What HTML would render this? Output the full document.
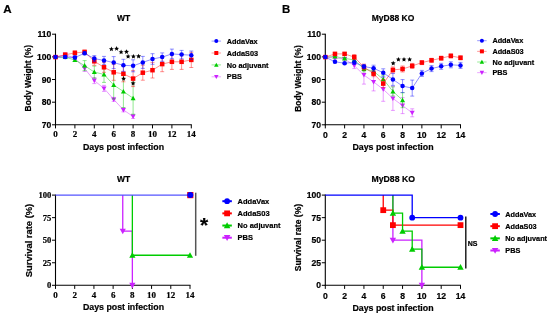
<!DOCTYPE html>
<html><head><meta charset="utf-8"><style>
html,body{margin:0;padding:0;background:#fff;width:550px;height:316px;overflow:hidden}
svg{display:block;filter:blur(0.3px)}
text{stroke:#000;stroke-width:0.2px}
</style></head><body>
<svg width="550" height="316" viewBox="0 0 550 316">
<rect width="550" height="316" fill="#fff"/>
<text x="3.3" y="12.6" font-size="11.6" text-anchor="start" font-family='"Liberation Sans", sans-serif' font-weight="bold" >A</text>
<text x="123.5" y="20.5" font-size="8.5" text-anchor="middle" font-family='"Liberation Sans", sans-serif' font-weight="bold" >WT</text>
<line x1="55.50" y1="33.70" x2="55.50" y2="125.30" stroke="#000" stroke-width="1.1" stroke-opacity="1"/>
<line x1="55.00" y1="124.80" x2="191.80" y2="124.80" stroke="#000" stroke-width="1.1" stroke-opacity="1"/>
<line x1="52.00" y1="34.20" x2="55.50" y2="34.20" stroke="#000" stroke-width="1" stroke-opacity="1"/>
<text x="51.3" y="37.300000000000004" font-size="8.6" text-anchor="end" font-family='"Liberation Sans", sans-serif' font-weight="bold" >110</text>
<line x1="52.00" y1="56.90" x2="55.50" y2="56.90" stroke="#000" stroke-width="1" stroke-opacity="1"/>
<text x="51.3" y="60.0" font-size="8.6" text-anchor="end" font-family='"Liberation Sans", sans-serif' font-weight="bold" >100</text>
<line x1="52.00" y1="79.50" x2="55.50" y2="79.50" stroke="#000" stroke-width="1" stroke-opacity="1"/>
<text x="51.3" y="82.6" font-size="8.6" text-anchor="end" font-family='"Liberation Sans", sans-serif' font-weight="bold" >90</text>
<line x1="52.00" y1="102.20" x2="55.50" y2="102.20" stroke="#000" stroke-width="1" stroke-opacity="1"/>
<text x="51.3" y="105.3" font-size="8.6" text-anchor="end" font-family='"Liberation Sans", sans-serif' font-weight="bold" >80</text>
<line x1="52.00" y1="124.80" x2="55.50" y2="124.80" stroke="#000" stroke-width="1" stroke-opacity="1"/>
<text x="51.3" y="127.89999999999999" font-size="8.6" text-anchor="end" font-family='"Liberation Sans", sans-serif' font-weight="bold" >70</text>
<line x1="55.50" y1="124.80" x2="55.50" y2="128.40" stroke="#000" stroke-width="1" stroke-opacity="1"/>
<text x="55.5" y="137.3" font-size="9.0" text-anchor="middle" font-family='"Liberation Serif", serif' font-weight="bold" >0</text>
<line x1="74.90" y1="124.80" x2="74.90" y2="128.40" stroke="#000" stroke-width="1" stroke-opacity="1"/>
<text x="74.9" y="137.3" font-size="9.0" text-anchor="middle" font-family='"Liberation Serif", serif' font-weight="bold" >2</text>
<line x1="94.30" y1="124.80" x2="94.30" y2="128.40" stroke="#000" stroke-width="1" stroke-opacity="1"/>
<text x="94.30000000000001" y="137.3" font-size="9.0" text-anchor="middle" font-family='"Liberation Serif", serif' font-weight="bold" >4</text>
<line x1="113.70" y1="124.80" x2="113.70" y2="128.40" stroke="#000" stroke-width="1" stroke-opacity="1"/>
<text x="113.7" y="137.3" font-size="9.0" text-anchor="middle" font-family='"Liberation Serif", serif' font-weight="bold" >6</text>
<line x1="133.10" y1="124.80" x2="133.10" y2="128.40" stroke="#000" stroke-width="1" stroke-opacity="1"/>
<text x="133.10000000000002" y="137.3" font-size="9.0" text-anchor="middle" font-family='"Liberation Serif", serif' font-weight="bold" >8</text>
<line x1="152.50" y1="124.80" x2="152.50" y2="128.40" stroke="#000" stroke-width="1" stroke-opacity="1"/>
<text x="152.5" y="137.3" font-size="9.0" text-anchor="middle" font-family='"Liberation Serif", serif' font-weight="bold" >10</text>
<line x1="171.90" y1="124.80" x2="171.90" y2="128.40" stroke="#000" stroke-width="1" stroke-opacity="1"/>
<text x="171.9" y="137.3" font-size="9.0" text-anchor="middle" font-family='"Liberation Serif", serif' font-weight="bold" >12</text>
<line x1="191.30" y1="124.80" x2="191.30" y2="128.40" stroke="#000" stroke-width="1" stroke-opacity="1"/>
<text x="191.3" y="137.3" font-size="9.0" text-anchor="middle" font-family='"Liberation Serif", serif' font-weight="bold" >14</text>
<text x="123.5" y="150" font-size="8.8" text-anchor="middle" font-family='"Liberation Sans", sans-serif' font-weight="bold" >Days post infection</text>
<text transform="translate(31,78.2) rotate(-90)" font-size="8.4" text-anchor="middle" font-family='"Liberation Sans", sans-serif' font-weight="bold">Body Weight (%)</text>
<path d="M55.50,57.10 L65.20,54.80 L74.90,58.00 L84.60,68.50 L94.30,80.60 L104.00,88.40 L113.70,99.40 L123.40,109.90 L133.10,116.50" fill="none" stroke="#cc22ff" stroke-width="0.8" stroke-opacity="0.55"/>
<line x1="65.20" y1="53.30" x2="65.20" y2="56.30" stroke="#cc22ff" stroke-width="0.8" stroke-opacity="0.55"/>
<line x1="63.20" y1="53.30" x2="67.20" y2="53.30" stroke="#cc22ff" stroke-width="0.8" stroke-opacity="0.55"/>
<line x1="63.20" y1="56.30" x2="67.20" y2="56.30" stroke="#cc22ff" stroke-width="0.8" stroke-opacity="0.55"/>
<line x1="74.90" y1="56.50" x2="74.90" y2="59.50" stroke="#cc22ff" stroke-width="0.8" stroke-opacity="0.55"/>
<line x1="72.90" y1="56.50" x2="76.90" y2="56.50" stroke="#cc22ff" stroke-width="0.8" stroke-opacity="0.55"/>
<line x1="72.90" y1="59.50" x2="76.90" y2="59.50" stroke="#cc22ff" stroke-width="0.8" stroke-opacity="0.55"/>
<line x1="84.60" y1="65.50" x2="84.60" y2="71.50" stroke="#cc22ff" stroke-width="0.8" stroke-opacity="0.55"/>
<line x1="82.60" y1="65.50" x2="86.60" y2="65.50" stroke="#cc22ff" stroke-width="0.8" stroke-opacity="0.55"/>
<line x1="82.60" y1="71.50" x2="86.60" y2="71.50" stroke="#cc22ff" stroke-width="0.8" stroke-opacity="0.55"/>
<line x1="94.30" y1="77.60" x2="94.30" y2="83.60" stroke="#cc22ff" stroke-width="0.8" stroke-opacity="0.55"/>
<line x1="92.30" y1="77.60" x2="96.30" y2="77.60" stroke="#cc22ff" stroke-width="0.8" stroke-opacity="0.55"/>
<line x1="92.30" y1="83.60" x2="96.30" y2="83.60" stroke="#cc22ff" stroke-width="0.8" stroke-opacity="0.55"/>
<line x1="104.00" y1="85.40" x2="104.00" y2="91.40" stroke="#cc22ff" stroke-width="0.8" stroke-opacity="0.55"/>
<line x1="102.00" y1="85.40" x2="106.00" y2="85.40" stroke="#cc22ff" stroke-width="0.8" stroke-opacity="0.55"/>
<line x1="102.00" y1="91.40" x2="106.00" y2="91.40" stroke="#cc22ff" stroke-width="0.8" stroke-opacity="0.55"/>
<line x1="113.70" y1="97.40" x2="113.70" y2="101.40" stroke="#cc22ff" stroke-width="0.8" stroke-opacity="0.55"/>
<line x1="111.70" y1="97.40" x2="115.70" y2="97.40" stroke="#cc22ff" stroke-width="0.8" stroke-opacity="0.55"/>
<line x1="111.70" y1="101.40" x2="115.70" y2="101.40" stroke="#cc22ff" stroke-width="0.8" stroke-opacity="0.55"/>
<line x1="123.40" y1="107.90" x2="123.40" y2="111.90" stroke="#cc22ff" stroke-width="0.8" stroke-opacity="0.55"/>
<line x1="121.40" y1="107.90" x2="125.40" y2="107.90" stroke="#cc22ff" stroke-width="0.8" stroke-opacity="0.55"/>
<line x1="121.40" y1="111.90" x2="125.40" y2="111.90" stroke="#cc22ff" stroke-width="0.8" stroke-opacity="0.55"/>
<line x1="133.10" y1="114.50" x2="133.10" y2="118.50" stroke="#cc22ff" stroke-width="0.8" stroke-opacity="0.55"/>
<line x1="131.10" y1="114.50" x2="135.10" y2="114.50" stroke="#cc22ff" stroke-width="0.8" stroke-opacity="0.55"/>
<line x1="131.10" y1="118.50" x2="135.10" y2="118.50" stroke="#cc22ff" stroke-width="0.8" stroke-opacity="0.55"/>
<path d="M53.00,55.10 L58.00,55.10 L55.50,59.60 Z" fill="#cc22ff"/>
<path d="M62.70,52.80 L67.70,52.80 L65.20,57.30 Z" fill="#cc22ff"/>
<path d="M72.40,56.00 L77.40,56.00 L74.90,60.50 Z" fill="#cc22ff"/>
<path d="M82.10,66.50 L87.10,66.50 L84.60,71.00 Z" fill="#cc22ff"/>
<path d="M91.80,78.60 L96.80,78.60 L94.30,83.10 Z" fill="#cc22ff"/>
<path d="M101.50,86.40 L106.50,86.40 L104.00,90.90 Z" fill="#cc22ff"/>
<path d="M111.20,97.40 L116.20,97.40 L113.70,101.90 Z" fill="#cc22ff"/>
<path d="M120.90,107.90 L125.90,107.90 L123.40,112.40 Z" fill="#cc22ff"/>
<path d="M130.60,114.50 L135.60,114.50 L133.10,119.00 Z" fill="#cc22ff"/>
<path d="M55.50,57.10 L65.20,57.10 L74.90,60.00 L84.60,65.60 L94.30,72.10 L104.00,74.40 L113.70,85.00 L123.40,91.50 L133.10,98.20" fill="none" stroke="#00cc00" stroke-width="0.8" stroke-opacity="0.55"/>
<line x1="65.20" y1="56.10" x2="65.20" y2="58.10" stroke="#00cc00" stroke-width="0.8" stroke-opacity="0.55"/>
<line x1="63.20" y1="56.10" x2="67.20" y2="56.10" stroke="#00cc00" stroke-width="0.8" stroke-opacity="0.55"/>
<line x1="63.20" y1="58.10" x2="67.20" y2="58.10" stroke="#00cc00" stroke-width="0.8" stroke-opacity="0.55"/>
<line x1="74.90" y1="58.50" x2="74.90" y2="61.50" stroke="#00cc00" stroke-width="0.8" stroke-opacity="0.55"/>
<line x1="72.90" y1="58.50" x2="76.90" y2="58.50" stroke="#00cc00" stroke-width="0.8" stroke-opacity="0.55"/>
<line x1="72.90" y1="61.50" x2="76.90" y2="61.50" stroke="#00cc00" stroke-width="0.8" stroke-opacity="0.55"/>
<line x1="84.60" y1="60.60" x2="84.60" y2="70.60" stroke="#00cc00" stroke-width="0.8" stroke-opacity="0.55"/>
<line x1="82.60" y1="60.60" x2="86.60" y2="60.60" stroke="#00cc00" stroke-width="0.8" stroke-opacity="0.55"/>
<line x1="82.60" y1="70.60" x2="86.60" y2="70.60" stroke="#00cc00" stroke-width="0.8" stroke-opacity="0.55"/>
<line x1="94.30" y1="66.10" x2="94.30" y2="78.10" stroke="#00cc00" stroke-width="0.8" stroke-opacity="0.55"/>
<line x1="92.30" y1="66.10" x2="96.30" y2="66.10" stroke="#00cc00" stroke-width="0.8" stroke-opacity="0.55"/>
<line x1="92.30" y1="78.10" x2="96.30" y2="78.10" stroke="#00cc00" stroke-width="0.8" stroke-opacity="0.55"/>
<line x1="104.00" y1="66.40" x2="104.00" y2="82.40" stroke="#00cc00" stroke-width="0.8" stroke-opacity="0.55"/>
<line x1="102.00" y1="66.40" x2="106.00" y2="66.40" stroke="#00cc00" stroke-width="0.8" stroke-opacity="0.55"/>
<line x1="102.00" y1="82.40" x2="106.00" y2="82.40" stroke="#00cc00" stroke-width="0.8" stroke-opacity="0.55"/>
<line x1="113.70" y1="71.00" x2="113.70" y2="99.00" stroke="#00cc00" stroke-width="0.8" stroke-opacity="0.55"/>
<line x1="111.70" y1="71.00" x2="115.70" y2="71.00" stroke="#00cc00" stroke-width="0.8" stroke-opacity="0.55"/>
<line x1="111.70" y1="99.00" x2="115.70" y2="99.00" stroke="#00cc00" stroke-width="0.8" stroke-opacity="0.55"/>
<line x1="123.40" y1="75.50" x2="123.40" y2="107.50" stroke="#00cc00" stroke-width="0.8" stroke-opacity="0.55"/>
<line x1="121.40" y1="75.50" x2="125.40" y2="75.50" stroke="#00cc00" stroke-width="0.8" stroke-opacity="0.55"/>
<line x1="121.40" y1="107.50" x2="125.40" y2="107.50" stroke="#00cc00" stroke-width="0.8" stroke-opacity="0.55"/>
<line x1="133.10" y1="82.20" x2="133.10" y2="114.20" stroke="#00cc00" stroke-width="0.8" stroke-opacity="0.55"/>
<line x1="131.10" y1="82.20" x2="135.10" y2="82.20" stroke="#00cc00" stroke-width="0.8" stroke-opacity="0.55"/>
<line x1="131.10" y1="114.20" x2="135.10" y2="114.20" stroke="#00cc00" stroke-width="0.8" stroke-opacity="0.55"/>
<path d="M53.00,59.10 L58.00,59.10 L55.50,54.60 Z" fill="#00cc00"/>
<path d="M62.70,59.10 L67.70,59.10 L65.20,54.60 Z" fill="#00cc00"/>
<path d="M72.40,62.00 L77.40,62.00 L74.90,57.50 Z" fill="#00cc00"/>
<path d="M82.10,67.60 L87.10,67.60 L84.60,63.10 Z" fill="#00cc00"/>
<path d="M91.80,74.10 L96.80,74.10 L94.30,69.60 Z" fill="#00cc00"/>
<path d="M101.50,76.40 L106.50,76.40 L104.00,71.90 Z" fill="#00cc00"/>
<path d="M111.20,87.00 L116.20,87.00 L113.70,82.50 Z" fill="#00cc00"/>
<path d="M120.90,93.50 L125.90,93.50 L123.40,89.00 Z" fill="#00cc00"/>
<path d="M130.60,100.20 L135.60,100.20 L133.10,95.70 Z" fill="#00cc00"/>
<path d="M55.50,57.10 L65.20,54.80 L74.90,52.90 L84.60,52.00 L94.30,61.30 L104.00,67.30 L113.70,72.30 L123.40,73.80 L133.10,78.60 L142.80,72.70 L152.50,70.20 L162.20,64.10 L171.90,61.80 L181.60,61.80 L191.30,59.90" fill="none" stroke="#ff0000" stroke-width="0.8" stroke-opacity="0.55"/>
<line x1="65.20" y1="52.80" x2="65.20" y2="56.80" stroke="#ff0000" stroke-width="0.8" stroke-opacity="0.55"/>
<line x1="63.20" y1="52.80" x2="67.20" y2="52.80" stroke="#ff0000" stroke-width="0.8" stroke-opacity="0.55"/>
<line x1="63.20" y1="56.80" x2="67.20" y2="56.80" stroke="#ff0000" stroke-width="0.8" stroke-opacity="0.55"/>
<line x1="74.90" y1="50.90" x2="74.90" y2="54.90" stroke="#ff0000" stroke-width="0.8" stroke-opacity="0.55"/>
<line x1="72.90" y1="50.90" x2="76.90" y2="50.90" stroke="#ff0000" stroke-width="0.8" stroke-opacity="0.55"/>
<line x1="72.90" y1="54.90" x2="76.90" y2="54.90" stroke="#ff0000" stroke-width="0.8" stroke-opacity="0.55"/>
<line x1="84.60" y1="50.00" x2="84.60" y2="54.00" stroke="#ff0000" stroke-width="0.8" stroke-opacity="0.55"/>
<line x1="82.60" y1="50.00" x2="86.60" y2="50.00" stroke="#ff0000" stroke-width="0.8" stroke-opacity="0.55"/>
<line x1="82.60" y1="54.00" x2="86.60" y2="54.00" stroke="#ff0000" stroke-width="0.8" stroke-opacity="0.55"/>
<line x1="94.30" y1="57.30" x2="94.30" y2="65.30" stroke="#ff0000" stroke-width="0.8" stroke-opacity="0.55"/>
<line x1="92.30" y1="57.30" x2="96.30" y2="57.30" stroke="#ff0000" stroke-width="0.8" stroke-opacity="0.55"/>
<line x1="92.30" y1="65.30" x2="96.30" y2="65.30" stroke="#ff0000" stroke-width="0.8" stroke-opacity="0.55"/>
<line x1="104.00" y1="62.30" x2="104.00" y2="72.30" stroke="#ff0000" stroke-width="0.8" stroke-opacity="0.55"/>
<line x1="102.00" y1="62.30" x2="106.00" y2="62.30" stroke="#ff0000" stroke-width="0.8" stroke-opacity="0.55"/>
<line x1="102.00" y1="72.30" x2="106.00" y2="72.30" stroke="#ff0000" stroke-width="0.8" stroke-opacity="0.55"/>
<line x1="113.70" y1="64.30" x2="113.70" y2="80.30" stroke="#ff0000" stroke-width="0.8" stroke-opacity="0.55"/>
<line x1="111.70" y1="64.30" x2="115.70" y2="64.30" stroke="#ff0000" stroke-width="0.8" stroke-opacity="0.55"/>
<line x1="111.70" y1="80.30" x2="115.70" y2="80.30" stroke="#ff0000" stroke-width="0.8" stroke-opacity="0.55"/>
<line x1="123.40" y1="65.80" x2="123.40" y2="81.80" stroke="#ff0000" stroke-width="0.8" stroke-opacity="0.55"/>
<line x1="121.40" y1="65.80" x2="125.40" y2="65.80" stroke="#ff0000" stroke-width="0.8" stroke-opacity="0.55"/>
<line x1="121.40" y1="81.80" x2="125.40" y2="81.80" stroke="#ff0000" stroke-width="0.8" stroke-opacity="0.55"/>
<line x1="133.10" y1="70.60" x2="133.10" y2="86.60" stroke="#ff0000" stroke-width="0.8" stroke-opacity="0.55"/>
<line x1="131.10" y1="70.60" x2="135.10" y2="70.60" stroke="#ff0000" stroke-width="0.8" stroke-opacity="0.55"/>
<line x1="131.10" y1="86.60" x2="135.10" y2="86.60" stroke="#ff0000" stroke-width="0.8" stroke-opacity="0.55"/>
<line x1="142.80" y1="65.20" x2="142.80" y2="80.20" stroke="#ff0000" stroke-width="0.8" stroke-opacity="0.55"/>
<line x1="140.80" y1="65.20" x2="144.80" y2="65.20" stroke="#ff0000" stroke-width="0.8" stroke-opacity="0.55"/>
<line x1="140.80" y1="80.20" x2="144.80" y2="80.20" stroke="#ff0000" stroke-width="0.8" stroke-opacity="0.55"/>
<line x1="152.50" y1="62.40" x2="152.50" y2="78.00" stroke="#ff0000" stroke-width="0.8" stroke-opacity="0.55"/>
<line x1="150.50" y1="62.40" x2="154.50" y2="62.40" stroke="#ff0000" stroke-width="0.8" stroke-opacity="0.55"/>
<line x1="150.50" y1="78.00" x2="154.50" y2="78.00" stroke="#ff0000" stroke-width="0.8" stroke-opacity="0.55"/>
<line x1="162.20" y1="56.50" x2="162.20" y2="71.70" stroke="#ff0000" stroke-width="0.8" stroke-opacity="0.55"/>
<line x1="160.20" y1="56.50" x2="164.20" y2="56.50" stroke="#ff0000" stroke-width="0.8" stroke-opacity="0.55"/>
<line x1="160.20" y1="71.70" x2="164.20" y2="71.70" stroke="#ff0000" stroke-width="0.8" stroke-opacity="0.55"/>
<line x1="171.90" y1="54.20" x2="171.90" y2="69.40" stroke="#ff0000" stroke-width="0.8" stroke-opacity="0.55"/>
<line x1="169.90" y1="54.20" x2="173.90" y2="54.20" stroke="#ff0000" stroke-width="0.8" stroke-opacity="0.55"/>
<line x1="169.90" y1="69.40" x2="173.90" y2="69.40" stroke="#ff0000" stroke-width="0.8" stroke-opacity="0.55"/>
<line x1="181.60" y1="54.20" x2="181.60" y2="69.40" stroke="#ff0000" stroke-width="0.8" stroke-opacity="0.55"/>
<line x1="179.60" y1="54.20" x2="183.60" y2="54.20" stroke="#ff0000" stroke-width="0.8" stroke-opacity="0.55"/>
<line x1="179.60" y1="69.40" x2="183.60" y2="69.40" stroke="#ff0000" stroke-width="0.8" stroke-opacity="0.55"/>
<line x1="191.30" y1="52.30" x2="191.30" y2="67.50" stroke="#ff0000" stroke-width="0.8" stroke-opacity="0.55"/>
<line x1="189.30" y1="52.30" x2="193.30" y2="52.30" stroke="#ff0000" stroke-width="0.8" stroke-opacity="0.55"/>
<line x1="189.30" y1="67.50" x2="193.30" y2="67.50" stroke="#ff0000" stroke-width="0.8" stroke-opacity="0.55"/>
<rect x="53.25" y="54.85" width="4.50" height="4.50" fill="#ff0000"/>
<rect x="62.95" y="52.55" width="4.50" height="4.50" fill="#ff0000"/>
<rect x="72.65" y="50.65" width="4.50" height="4.50" fill="#ff0000"/>
<rect x="82.35" y="49.75" width="4.50" height="4.50" fill="#ff0000"/>
<rect x="92.05" y="59.05" width="4.50" height="4.50" fill="#ff0000"/>
<rect x="101.75" y="65.05" width="4.50" height="4.50" fill="#ff0000"/>
<rect x="111.45" y="70.05" width="4.50" height="4.50" fill="#ff0000"/>
<rect x="121.15" y="71.55" width="4.50" height="4.50" fill="#ff0000"/>
<rect x="130.85" y="76.35" width="4.50" height="4.50" fill="#ff0000"/>
<rect x="140.55" y="70.45" width="4.50" height="4.50" fill="#ff0000"/>
<rect x="150.25" y="67.95" width="4.50" height="4.50" fill="#ff0000"/>
<rect x="159.95" y="61.85" width="4.50" height="4.50" fill="#ff0000"/>
<rect x="169.65" y="59.55" width="4.50" height="4.50" fill="#ff0000"/>
<rect x="179.35" y="59.55" width="4.50" height="4.50" fill="#ff0000"/>
<rect x="189.05" y="57.65" width="4.50" height="4.50" fill="#ff0000"/>
<path d="M55.50,57.10 L65.20,57.10 L74.90,57.50 L84.60,53.30 L94.30,58.60 L104.00,60.40 L113.70,62.60 L123.40,65.30 L133.10,65.80 L142.80,62.40 L152.50,59.00 L162.20,57.10 L171.90,53.90 L181.60,54.60 L191.30,55.20" fill="none" stroke="#0000ff" stroke-width="0.8" stroke-opacity="0.55"/>
<line x1="65.20" y1="55.60" x2="65.20" y2="58.60" stroke="#0000ff" stroke-width="0.8" stroke-opacity="0.55"/>
<line x1="63.20" y1="55.60" x2="67.20" y2="55.60" stroke="#0000ff" stroke-width="0.8" stroke-opacity="0.55"/>
<line x1="63.20" y1="58.60" x2="67.20" y2="58.60" stroke="#0000ff" stroke-width="0.8" stroke-opacity="0.55"/>
<line x1="74.90" y1="56.00" x2="74.90" y2="59.00" stroke="#0000ff" stroke-width="0.8" stroke-opacity="0.55"/>
<line x1="72.90" y1="56.00" x2="76.90" y2="56.00" stroke="#0000ff" stroke-width="0.8" stroke-opacity="0.55"/>
<line x1="72.90" y1="59.00" x2="76.90" y2="59.00" stroke="#0000ff" stroke-width="0.8" stroke-opacity="0.55"/>
<line x1="84.60" y1="51.80" x2="84.60" y2="54.80" stroke="#0000ff" stroke-width="0.8" stroke-opacity="0.55"/>
<line x1="82.60" y1="51.80" x2="86.60" y2="51.80" stroke="#0000ff" stroke-width="0.8" stroke-opacity="0.55"/>
<line x1="82.60" y1="54.80" x2="86.60" y2="54.80" stroke="#0000ff" stroke-width="0.8" stroke-opacity="0.55"/>
<line x1="94.30" y1="55.60" x2="94.30" y2="61.60" stroke="#0000ff" stroke-width="0.8" stroke-opacity="0.55"/>
<line x1="92.30" y1="55.60" x2="96.30" y2="55.60" stroke="#0000ff" stroke-width="0.8" stroke-opacity="0.55"/>
<line x1="92.30" y1="61.60" x2="96.30" y2="61.60" stroke="#0000ff" stroke-width="0.8" stroke-opacity="0.55"/>
<line x1="104.00" y1="56.40" x2="104.00" y2="64.40" stroke="#0000ff" stroke-width="0.8" stroke-opacity="0.55"/>
<line x1="102.00" y1="56.40" x2="106.00" y2="56.40" stroke="#0000ff" stroke-width="0.8" stroke-opacity="0.55"/>
<line x1="102.00" y1="64.40" x2="106.00" y2="64.40" stroke="#0000ff" stroke-width="0.8" stroke-opacity="0.55"/>
<line x1="113.70" y1="56.60" x2="113.70" y2="68.60" stroke="#0000ff" stroke-width="0.8" stroke-opacity="0.55"/>
<line x1="111.70" y1="56.60" x2="115.70" y2="56.60" stroke="#0000ff" stroke-width="0.8" stroke-opacity="0.55"/>
<line x1="111.70" y1="68.60" x2="115.70" y2="68.60" stroke="#0000ff" stroke-width="0.8" stroke-opacity="0.55"/>
<line x1="123.40" y1="59.30" x2="123.40" y2="71.30" stroke="#0000ff" stroke-width="0.8" stroke-opacity="0.55"/>
<line x1="121.40" y1="59.30" x2="125.40" y2="59.30" stroke="#0000ff" stroke-width="0.8" stroke-opacity="0.55"/>
<line x1="121.40" y1="71.30" x2="125.40" y2="71.30" stroke="#0000ff" stroke-width="0.8" stroke-opacity="0.55"/>
<line x1="133.10" y1="59.80" x2="133.10" y2="71.80" stroke="#0000ff" stroke-width="0.8" stroke-opacity="0.55"/>
<line x1="131.10" y1="59.80" x2="135.10" y2="59.80" stroke="#0000ff" stroke-width="0.8" stroke-opacity="0.55"/>
<line x1="131.10" y1="71.80" x2="135.10" y2="71.80" stroke="#0000ff" stroke-width="0.8" stroke-opacity="0.55"/>
<line x1="142.80" y1="56.40" x2="142.80" y2="68.40" stroke="#0000ff" stroke-width="0.8" stroke-opacity="0.55"/>
<line x1="140.80" y1="56.40" x2="144.80" y2="56.40" stroke="#0000ff" stroke-width="0.8" stroke-opacity="0.55"/>
<line x1="140.80" y1="68.40" x2="144.80" y2="68.40" stroke="#0000ff" stroke-width="0.8" stroke-opacity="0.55"/>
<line x1="152.50" y1="53.70" x2="152.50" y2="64.30" stroke="#0000ff" stroke-width="0.8" stroke-opacity="0.55"/>
<line x1="150.50" y1="53.70" x2="154.50" y2="53.70" stroke="#0000ff" stroke-width="0.8" stroke-opacity="0.55"/>
<line x1="150.50" y1="64.30" x2="154.50" y2="64.30" stroke="#0000ff" stroke-width="0.8" stroke-opacity="0.55"/>
<line x1="162.20" y1="52.90" x2="162.20" y2="61.30" stroke="#0000ff" stroke-width="0.8" stroke-opacity="0.55"/>
<line x1="160.20" y1="52.90" x2="164.20" y2="52.90" stroke="#0000ff" stroke-width="0.8" stroke-opacity="0.55"/>
<line x1="160.20" y1="61.30" x2="164.20" y2="61.30" stroke="#0000ff" stroke-width="0.8" stroke-opacity="0.55"/>
<line x1="171.90" y1="49.10" x2="171.90" y2="58.70" stroke="#0000ff" stroke-width="0.8" stroke-opacity="0.55"/>
<line x1="169.90" y1="49.10" x2="173.90" y2="49.10" stroke="#0000ff" stroke-width="0.8" stroke-opacity="0.55"/>
<line x1="169.90" y1="58.70" x2="173.90" y2="58.70" stroke="#0000ff" stroke-width="0.8" stroke-opacity="0.55"/>
<line x1="181.60" y1="50.40" x2="181.60" y2="58.80" stroke="#0000ff" stroke-width="0.8" stroke-opacity="0.55"/>
<line x1="179.60" y1="50.40" x2="183.60" y2="50.40" stroke="#0000ff" stroke-width="0.8" stroke-opacity="0.55"/>
<line x1="179.60" y1="58.80" x2="183.60" y2="58.80" stroke="#0000ff" stroke-width="0.8" stroke-opacity="0.55"/>
<line x1="191.30" y1="51.00" x2="191.30" y2="59.40" stroke="#0000ff" stroke-width="0.8" stroke-opacity="0.55"/>
<line x1="189.30" y1="51.00" x2="193.30" y2="51.00" stroke="#0000ff" stroke-width="0.8" stroke-opacity="0.55"/>
<line x1="189.30" y1="59.40" x2="193.30" y2="59.40" stroke="#0000ff" stroke-width="0.8" stroke-opacity="0.55"/>
<circle cx="55.50" cy="57.10" r="2.25" fill="#0000ff"/>
<circle cx="65.20" cy="57.10" r="2.25" fill="#0000ff"/>
<circle cx="74.90" cy="57.50" r="2.25" fill="#0000ff"/>
<circle cx="84.60" cy="53.30" r="2.25" fill="#0000ff"/>
<circle cx="94.30" cy="58.60" r="2.25" fill="#0000ff"/>
<circle cx="104.00" cy="60.40" r="2.25" fill="#0000ff"/>
<circle cx="113.70" cy="62.60" r="2.25" fill="#0000ff"/>
<circle cx="123.40" cy="65.30" r="2.25" fill="#0000ff"/>
<circle cx="133.10" cy="65.80" r="2.25" fill="#0000ff"/>
<circle cx="142.80" cy="62.40" r="2.25" fill="#0000ff"/>
<circle cx="152.50" cy="59.00" r="2.25" fill="#0000ff"/>
<circle cx="162.20" cy="57.10" r="2.25" fill="#0000ff"/>
<circle cx="171.90" cy="53.90" r="2.25" fill="#0000ff"/>
<circle cx="181.60" cy="54.60" r="2.25" fill="#0000ff"/>
<circle cx="191.30" cy="55.20" r="2.25" fill="#0000ff"/>
<path d="M111.40,46.50 L112.09,48.15 L113.87,48.30 L112.51,49.46 L112.93,51.20 L111.40,50.27 L109.87,51.20 L110.29,49.46 L108.93,48.30 L110.71,48.15 Z" fill="#000"/>
<path d="M116.60,46.10 L117.29,47.75 L119.07,47.90 L117.71,49.06 L118.13,50.80 L116.60,49.87 L115.07,50.80 L115.49,49.06 L114.13,47.90 L115.91,47.75 Z" fill="#000"/>
<path d="M121.10,49.60 L121.79,51.25 L123.57,51.40 L122.21,52.56 L122.63,54.30 L121.10,53.37 L119.57,54.30 L119.99,52.56 L118.63,51.40 L120.41,51.25 Z" fill="#000"/>
<path d="M126.50,49.20 L127.19,50.85 L128.97,51.00 L127.61,52.16 L128.03,53.90 L126.50,52.97 L124.97,53.90 L125.39,52.16 L124.03,51.00 L125.81,50.85 Z" fill="#000"/>
<path d="M128.10,53.90 L128.79,55.55 L130.57,55.70 L129.21,56.86 L129.63,58.60 L128.10,57.67 L126.57,58.60 L126.99,56.86 L125.63,55.70 L127.41,55.55 Z" fill="#000"/>
<path d="M133.40,53.90 L134.09,55.55 L135.87,55.70 L134.51,56.86 L134.93,58.60 L133.40,57.67 L131.87,58.60 L132.29,56.86 L130.93,55.70 L132.71,55.55 Z" fill="#000"/>
<path d="M138.60,53.70 L139.29,55.35 L141.07,55.50 L139.71,56.66 L140.13,58.40 L138.60,57.47 L137.07,58.40 L137.49,56.66 L136.13,55.50 L137.91,55.35 Z" fill="#000"/>
<path d="M123.60,76.10 L124.29,77.75 L126.07,77.90 L124.71,79.06 L125.13,80.80 L123.60,79.87 L122.07,80.80 L122.49,79.06 L121.13,77.90 L122.91,77.75 Z" fill="#000"/>
<path d="M133.10,80.80 L133.79,82.45 L135.57,82.60 L134.21,83.76 L134.63,85.50 L133.10,84.57 L131.57,85.50 L131.99,83.76 L130.63,82.60 L132.41,82.45 Z" fill="#000"/>
<line x1="211.55" y1="41.10" x2="221.05" y2="41.10" stroke="#0000ff" stroke-width="0.8" stroke-opacity="0.5"/>
<circle cx="216.30" cy="41.10" r="2.00" fill="#0000ff"/>
<text x="226.8" y="43.728" font-size="7.3" text-anchor="start" font-family='"Liberation Sans", sans-serif' font-weight="bold" >AddaVax</text>
<line x1="211.55" y1="53.00" x2="221.05" y2="53.00" stroke="#ff0000" stroke-width="0.8" stroke-opacity="0.5"/>
<rect x="214.30" y="51.00" width="4.00" height="4.00" fill="#ff0000"/>
<text x="226.8" y="55.628" font-size="7.3" text-anchor="start" font-family='"Liberation Sans", sans-serif' font-weight="bold" >AddaS03</text>
<line x1="211.55" y1="64.90" x2="221.05" y2="64.90" stroke="#00cc00" stroke-width="0.8" stroke-opacity="0.5"/>
<path d="M214.06,66.69 L218.54,66.69 L216.30,62.66 Z" fill="#00cc00"/>
<text x="226.8" y="67.528" font-size="7.3" text-anchor="start" font-family='"Liberation Sans", sans-serif' font-weight="bold" >No adjuvant</text>
<line x1="211.55" y1="76.80" x2="221.05" y2="76.80" stroke="#cc22ff" stroke-width="0.8" stroke-opacity="0.5"/>
<path d="M214.06,75.01 L218.54,75.01 L216.30,79.04 Z" fill="#cc22ff"/>
<text x="226.8" y="79.42800000000001" font-size="7.3" text-anchor="start" font-family='"Liberation Sans", sans-serif' font-weight="bold" >PBS</text>
<text x="282" y="12.6" font-size="11.4" text-anchor="start" font-family='"Liberation Sans", sans-serif' font-weight="bold" >B</text>
<text x="393" y="20.5" font-size="8.5" text-anchor="middle" font-family='"Liberation Sans", sans-serif' font-weight="bold" >MyD88 KO</text>
<line x1="325.30" y1="33.70" x2="325.30" y2="125.30" stroke="#000" stroke-width="1.1" stroke-opacity="1"/>
<line x1="324.80" y1="124.80" x2="461.00" y2="124.80" stroke="#000" stroke-width="1.1" stroke-opacity="1"/>
<line x1="321.80" y1="34.20" x2="325.30" y2="34.20" stroke="#000" stroke-width="1" stroke-opacity="1"/>
<text x="321.1" y="37.300000000000004" font-size="8.6" text-anchor="end" font-family='"Liberation Sans", sans-serif' font-weight="bold" >110</text>
<line x1="321.80" y1="56.90" x2="325.30" y2="56.90" stroke="#000" stroke-width="1" stroke-opacity="1"/>
<text x="321.1" y="60.0" font-size="8.6" text-anchor="end" font-family='"Liberation Sans", sans-serif' font-weight="bold" >100</text>
<line x1="321.80" y1="79.50" x2="325.30" y2="79.50" stroke="#000" stroke-width="1" stroke-opacity="1"/>
<text x="321.1" y="82.6" font-size="8.6" text-anchor="end" font-family='"Liberation Sans", sans-serif' font-weight="bold" >90</text>
<line x1="321.80" y1="102.20" x2="325.30" y2="102.20" stroke="#000" stroke-width="1" stroke-opacity="1"/>
<text x="321.1" y="105.3" font-size="8.6" text-anchor="end" font-family='"Liberation Sans", sans-serif' font-weight="bold" >80</text>
<line x1="321.80" y1="124.80" x2="325.30" y2="124.80" stroke="#000" stroke-width="1" stroke-opacity="1"/>
<text x="321.1" y="127.89999999999999" font-size="8.6" text-anchor="end" font-family='"Liberation Sans", sans-serif' font-weight="bold" >70</text>
<line x1="325.30" y1="124.80" x2="325.30" y2="128.40" stroke="#000" stroke-width="1" stroke-opacity="1"/>
<text x="325.3" y="138.1" font-size="8.6" text-anchor="middle" font-family='"Liberation Sans", sans-serif' font-weight="bold" >0</text>
<line x1="344.61" y1="124.80" x2="344.61" y2="128.40" stroke="#000" stroke-width="1" stroke-opacity="1"/>
<text x="344.6142857142857" y="138.1" font-size="8.6" text-anchor="middle" font-family='"Liberation Sans", sans-serif' font-weight="bold" >2</text>
<line x1="363.93" y1="124.80" x2="363.93" y2="128.40" stroke="#000" stroke-width="1" stroke-opacity="1"/>
<text x="363.92857142857144" y="138.1" font-size="8.6" text-anchor="middle" font-family='"Liberation Sans", sans-serif' font-weight="bold" >4</text>
<line x1="383.24" y1="124.80" x2="383.24" y2="128.40" stroke="#000" stroke-width="1" stroke-opacity="1"/>
<text x="383.24285714285713" y="138.1" font-size="8.6" text-anchor="middle" font-family='"Liberation Sans", sans-serif' font-weight="bold" >6</text>
<line x1="402.56" y1="124.80" x2="402.56" y2="128.40" stroke="#000" stroke-width="1" stroke-opacity="1"/>
<text x="402.5571428571429" y="138.1" font-size="8.6" text-anchor="middle" font-family='"Liberation Sans", sans-serif' font-weight="bold" >8</text>
<line x1="421.87" y1="124.80" x2="421.87" y2="128.40" stroke="#000" stroke-width="1" stroke-opacity="1"/>
<text x="421.87142857142857" y="138.1" font-size="8.6" text-anchor="middle" font-family='"Liberation Sans", sans-serif' font-weight="bold" >10</text>
<line x1="441.19" y1="124.80" x2="441.19" y2="128.40" stroke="#000" stroke-width="1" stroke-opacity="1"/>
<text x="441.1857142857143" y="138.1" font-size="8.6" text-anchor="middle" font-family='"Liberation Sans", sans-serif' font-weight="bold" >12</text>
<line x1="460.50" y1="124.80" x2="460.50" y2="128.40" stroke="#000" stroke-width="1" stroke-opacity="1"/>
<text x="460.5" y="138.1" font-size="8.6" text-anchor="middle" font-family='"Liberation Sans", sans-serif' font-weight="bold" >14</text>
<text x="393" y="150" font-size="8.8" text-anchor="middle" font-family='"Liberation Sans", sans-serif' font-weight="bold" >Days post infection</text>
<text transform="translate(300.5,78.5) rotate(-90)" font-size="8.4" text-anchor="middle" font-family='"Liberation Sans", sans-serif' font-weight="bold">Body Weight (%)</text>
<path d="M325.30,57.10 L334.96,58.00 L344.61,59.00 L354.27,65.60 L363.93,75.10 L373.59,81.90 L383.24,89.30 L392.90,98.40 L402.56,105.60 L412.21,112.80" fill="none" stroke="#cc22ff" stroke-width="0.8" stroke-opacity="0.55"/>
<line x1="334.96" y1="57.00" x2="334.96" y2="59.00" stroke="#cc22ff" stroke-width="0.8" stroke-opacity="0.55"/>
<line x1="332.96" y1="57.00" x2="336.96" y2="57.00" stroke="#cc22ff" stroke-width="0.8" stroke-opacity="0.55"/>
<line x1="332.96" y1="59.00" x2="336.96" y2="59.00" stroke="#cc22ff" stroke-width="0.8" stroke-opacity="0.55"/>
<line x1="344.61" y1="58.00" x2="344.61" y2="60.00" stroke="#cc22ff" stroke-width="0.8" stroke-opacity="0.55"/>
<line x1="342.61" y1="58.00" x2="346.61" y2="58.00" stroke="#cc22ff" stroke-width="0.8" stroke-opacity="0.55"/>
<line x1="342.61" y1="60.00" x2="346.61" y2="60.00" stroke="#cc22ff" stroke-width="0.8" stroke-opacity="0.55"/>
<line x1="354.27" y1="62.60" x2="354.27" y2="68.60" stroke="#cc22ff" stroke-width="0.8" stroke-opacity="0.55"/>
<line x1="352.27" y1="62.60" x2="356.27" y2="62.60" stroke="#cc22ff" stroke-width="0.8" stroke-opacity="0.55"/>
<line x1="352.27" y1="68.60" x2="356.27" y2="68.60" stroke="#cc22ff" stroke-width="0.8" stroke-opacity="0.55"/>
<line x1="363.93" y1="66.10" x2="363.93" y2="84.10" stroke="#cc22ff" stroke-width="0.8" stroke-opacity="0.55"/>
<line x1="361.93" y1="66.10" x2="365.93" y2="66.10" stroke="#cc22ff" stroke-width="0.8" stroke-opacity="0.55"/>
<line x1="361.93" y1="84.10" x2="365.93" y2="84.10" stroke="#cc22ff" stroke-width="0.8" stroke-opacity="0.55"/>
<line x1="373.59" y1="72.90" x2="373.59" y2="90.90" stroke="#cc22ff" stroke-width="0.8" stroke-opacity="0.55"/>
<line x1="371.59" y1="72.90" x2="375.59" y2="72.90" stroke="#cc22ff" stroke-width="0.8" stroke-opacity="0.55"/>
<line x1="371.59" y1="90.90" x2="375.59" y2="90.90" stroke="#cc22ff" stroke-width="0.8" stroke-opacity="0.55"/>
<line x1="383.24" y1="77.30" x2="383.24" y2="101.30" stroke="#cc22ff" stroke-width="0.8" stroke-opacity="0.55"/>
<line x1="381.24" y1="77.30" x2="385.24" y2="77.30" stroke="#cc22ff" stroke-width="0.8" stroke-opacity="0.55"/>
<line x1="381.24" y1="101.30" x2="385.24" y2="101.30" stroke="#cc22ff" stroke-width="0.8" stroke-opacity="0.55"/>
<line x1="392.90" y1="86.40" x2="392.90" y2="110.40" stroke="#cc22ff" stroke-width="0.8" stroke-opacity="0.55"/>
<line x1="390.90" y1="86.40" x2="394.90" y2="86.40" stroke="#cc22ff" stroke-width="0.8" stroke-opacity="0.55"/>
<line x1="390.90" y1="110.40" x2="394.90" y2="110.40" stroke="#cc22ff" stroke-width="0.8" stroke-opacity="0.55"/>
<line x1="402.56" y1="97.60" x2="402.56" y2="113.60" stroke="#cc22ff" stroke-width="0.8" stroke-opacity="0.55"/>
<line x1="400.56" y1="97.60" x2="404.56" y2="97.60" stroke="#cc22ff" stroke-width="0.8" stroke-opacity="0.55"/>
<line x1="400.56" y1="113.60" x2="404.56" y2="113.60" stroke="#cc22ff" stroke-width="0.8" stroke-opacity="0.55"/>
<line x1="412.21" y1="108.80" x2="412.21" y2="116.80" stroke="#cc22ff" stroke-width="0.8" stroke-opacity="0.55"/>
<line x1="410.21" y1="108.80" x2="414.21" y2="108.80" stroke="#cc22ff" stroke-width="0.8" stroke-opacity="0.55"/>
<line x1="410.21" y1="116.80" x2="414.21" y2="116.80" stroke="#cc22ff" stroke-width="0.8" stroke-opacity="0.55"/>
<path d="M322.80,55.10 L327.80,55.10 L325.30,59.60 Z" fill="#cc22ff"/>
<path d="M332.46,56.00 L337.46,56.00 L334.96,60.50 Z" fill="#cc22ff"/>
<path d="M342.11,57.00 L347.11,57.00 L344.61,61.50 Z" fill="#cc22ff"/>
<path d="M351.77,63.60 L356.77,63.60 L354.27,68.10 Z" fill="#cc22ff"/>
<path d="M361.43,73.10 L366.43,73.10 L363.93,77.60 Z" fill="#cc22ff"/>
<path d="M371.09,79.90 L376.09,79.90 L373.59,84.40 Z" fill="#cc22ff"/>
<path d="M380.74,87.30 L385.74,87.30 L383.24,91.80 Z" fill="#cc22ff"/>
<path d="M390.40,96.40 L395.40,96.40 L392.90,100.90 Z" fill="#cc22ff"/>
<path d="M400.06,103.60 L405.06,103.60 L402.56,108.10 Z" fill="#cc22ff"/>
<path d="M409.71,110.80 L414.71,110.80 L412.21,115.30 Z" fill="#cc22ff"/>
<path d="M325.30,57.10 L334.96,56.50 L344.61,58.40 L354.27,59.90 L363.93,68.90 L373.59,71.30 L383.24,79.20 L392.90,91.40 L402.56,100.20" fill="none" stroke="#00cc00" stroke-width="0.8" stroke-opacity="0.55"/>
<line x1="334.96" y1="55.50" x2="334.96" y2="57.50" stroke="#00cc00" stroke-width="0.8" stroke-opacity="0.55"/>
<line x1="332.96" y1="55.50" x2="336.96" y2="55.50" stroke="#00cc00" stroke-width="0.8" stroke-opacity="0.55"/>
<line x1="332.96" y1="57.50" x2="336.96" y2="57.50" stroke="#00cc00" stroke-width="0.8" stroke-opacity="0.55"/>
<line x1="344.61" y1="57.40" x2="344.61" y2="59.40" stroke="#00cc00" stroke-width="0.8" stroke-opacity="0.55"/>
<line x1="342.61" y1="57.40" x2="346.61" y2="57.40" stroke="#00cc00" stroke-width="0.8" stroke-opacity="0.55"/>
<line x1="342.61" y1="59.40" x2="346.61" y2="59.40" stroke="#00cc00" stroke-width="0.8" stroke-opacity="0.55"/>
<line x1="354.27" y1="57.90" x2="354.27" y2="61.90" stroke="#00cc00" stroke-width="0.8" stroke-opacity="0.55"/>
<line x1="352.27" y1="57.90" x2="356.27" y2="57.90" stroke="#00cc00" stroke-width="0.8" stroke-opacity="0.55"/>
<line x1="352.27" y1="61.90" x2="356.27" y2="61.90" stroke="#00cc00" stroke-width="0.8" stroke-opacity="0.55"/>
<line x1="363.93" y1="65.90" x2="363.93" y2="71.90" stroke="#00cc00" stroke-width="0.8" stroke-opacity="0.55"/>
<line x1="361.93" y1="65.90" x2="365.93" y2="65.90" stroke="#00cc00" stroke-width="0.8" stroke-opacity="0.55"/>
<line x1="361.93" y1="71.90" x2="365.93" y2="71.90" stroke="#00cc00" stroke-width="0.8" stroke-opacity="0.55"/>
<line x1="373.59" y1="68.30" x2="373.59" y2="74.30" stroke="#00cc00" stroke-width="0.8" stroke-opacity="0.55"/>
<line x1="371.59" y1="68.30" x2="375.59" y2="68.30" stroke="#00cc00" stroke-width="0.8" stroke-opacity="0.55"/>
<line x1="371.59" y1="74.30" x2="375.59" y2="74.30" stroke="#00cc00" stroke-width="0.8" stroke-opacity="0.55"/>
<line x1="383.24" y1="75.20" x2="383.24" y2="83.20" stroke="#00cc00" stroke-width="0.8" stroke-opacity="0.55"/>
<line x1="381.24" y1="75.20" x2="385.24" y2="75.20" stroke="#00cc00" stroke-width="0.8" stroke-opacity="0.55"/>
<line x1="381.24" y1="83.20" x2="385.24" y2="83.20" stroke="#00cc00" stroke-width="0.8" stroke-opacity="0.55"/>
<line x1="392.90" y1="86.90" x2="392.90" y2="95.90" stroke="#00cc00" stroke-width="0.8" stroke-opacity="0.55"/>
<line x1="390.90" y1="86.90" x2="394.90" y2="86.90" stroke="#00cc00" stroke-width="0.8" stroke-opacity="0.55"/>
<line x1="390.90" y1="95.90" x2="394.90" y2="95.90" stroke="#00cc00" stroke-width="0.8" stroke-opacity="0.55"/>
<line x1="402.56" y1="92.70" x2="402.56" y2="107.70" stroke="#00cc00" stroke-width="0.8" stroke-opacity="0.55"/>
<line x1="400.56" y1="92.70" x2="404.56" y2="92.70" stroke="#00cc00" stroke-width="0.8" stroke-opacity="0.55"/>
<line x1="400.56" y1="107.70" x2="404.56" y2="107.70" stroke="#00cc00" stroke-width="0.8" stroke-opacity="0.55"/>
<path d="M322.80,59.10 L327.80,59.10 L325.30,54.60 Z" fill="#00cc00"/>
<path d="M332.46,58.50 L337.46,58.50 L334.96,54.00 Z" fill="#00cc00"/>
<path d="M342.11,60.40 L347.11,60.40 L344.61,55.90 Z" fill="#00cc00"/>
<path d="M351.77,61.90 L356.77,61.90 L354.27,57.40 Z" fill="#00cc00"/>
<path d="M361.43,70.90 L366.43,70.90 L363.93,66.40 Z" fill="#00cc00"/>
<path d="M371.09,73.30 L376.09,73.30 L373.59,68.80 Z" fill="#00cc00"/>
<path d="M380.74,81.20 L385.74,81.20 L383.24,76.70 Z" fill="#00cc00"/>
<path d="M390.40,93.40 L395.40,93.40 L392.90,88.90 Z" fill="#00cc00"/>
<path d="M400.06,102.20 L405.06,102.20 L402.56,97.70 Z" fill="#00cc00"/>
<path d="M325.30,57.10 L334.96,53.90 L344.61,53.90 L354.27,57.10 L363.93,67.10 L373.59,73.70 L383.24,83.60 L392.90,69.90 L402.56,69.00 L412.21,65.90 L421.87,62.60 L431.53,60.30 L441.19,58.20 L450.84,55.90 L460.50,57.80" fill="none" stroke="#ff0000" stroke-width="0.8" stroke-opacity="0.55"/>
<line x1="334.96" y1="52.40" x2="334.96" y2="55.40" stroke="#ff0000" stroke-width="0.8" stroke-opacity="0.55"/>
<line x1="332.96" y1="52.40" x2="336.96" y2="52.40" stroke="#ff0000" stroke-width="0.8" stroke-opacity="0.55"/>
<line x1="332.96" y1="55.40" x2="336.96" y2="55.40" stroke="#ff0000" stroke-width="0.8" stroke-opacity="0.55"/>
<line x1="344.61" y1="52.40" x2="344.61" y2="55.40" stroke="#ff0000" stroke-width="0.8" stroke-opacity="0.55"/>
<line x1="342.61" y1="52.40" x2="346.61" y2="52.40" stroke="#ff0000" stroke-width="0.8" stroke-opacity="0.55"/>
<line x1="342.61" y1="55.40" x2="346.61" y2="55.40" stroke="#ff0000" stroke-width="0.8" stroke-opacity="0.55"/>
<line x1="354.27" y1="54.60" x2="354.27" y2="59.60" stroke="#ff0000" stroke-width="0.8" stroke-opacity="0.55"/>
<line x1="352.27" y1="54.60" x2="356.27" y2="54.60" stroke="#ff0000" stroke-width="0.8" stroke-opacity="0.55"/>
<line x1="352.27" y1="59.60" x2="356.27" y2="59.60" stroke="#ff0000" stroke-width="0.8" stroke-opacity="0.55"/>
<line x1="363.93" y1="64.10" x2="363.93" y2="70.10" stroke="#ff0000" stroke-width="0.8" stroke-opacity="0.55"/>
<line x1="361.93" y1="64.10" x2="365.93" y2="64.10" stroke="#ff0000" stroke-width="0.8" stroke-opacity="0.55"/>
<line x1="361.93" y1="70.10" x2="365.93" y2="70.10" stroke="#ff0000" stroke-width="0.8" stroke-opacity="0.55"/>
<line x1="373.59" y1="70.70" x2="373.59" y2="76.70" stroke="#ff0000" stroke-width="0.8" stroke-opacity="0.55"/>
<line x1="371.59" y1="70.70" x2="375.59" y2="70.70" stroke="#ff0000" stroke-width="0.8" stroke-opacity="0.55"/>
<line x1="371.59" y1="76.70" x2="375.59" y2="76.70" stroke="#ff0000" stroke-width="0.8" stroke-opacity="0.55"/>
<line x1="383.24" y1="79.60" x2="383.24" y2="87.60" stroke="#ff0000" stroke-width="0.8" stroke-opacity="0.55"/>
<line x1="381.24" y1="79.60" x2="385.24" y2="79.60" stroke="#ff0000" stroke-width="0.8" stroke-opacity="0.55"/>
<line x1="381.24" y1="87.60" x2="385.24" y2="87.60" stroke="#ff0000" stroke-width="0.8" stroke-opacity="0.55"/>
<line x1="392.90" y1="66.90" x2="392.90" y2="72.90" stroke="#ff0000" stroke-width="0.8" stroke-opacity="0.55"/>
<line x1="390.90" y1="66.90" x2="394.90" y2="66.90" stroke="#ff0000" stroke-width="0.8" stroke-opacity="0.55"/>
<line x1="390.90" y1="72.90" x2="394.90" y2="72.90" stroke="#ff0000" stroke-width="0.8" stroke-opacity="0.55"/>
<line x1="402.56" y1="66.00" x2="402.56" y2="72.00" stroke="#ff0000" stroke-width="0.8" stroke-opacity="0.55"/>
<line x1="400.56" y1="66.00" x2="404.56" y2="66.00" stroke="#ff0000" stroke-width="0.8" stroke-opacity="0.55"/>
<line x1="400.56" y1="72.00" x2="404.56" y2="72.00" stroke="#ff0000" stroke-width="0.8" stroke-opacity="0.55"/>
<line x1="412.21" y1="63.40" x2="412.21" y2="68.40" stroke="#ff0000" stroke-width="0.8" stroke-opacity="0.55"/>
<line x1="410.21" y1="63.40" x2="414.21" y2="63.40" stroke="#ff0000" stroke-width="0.8" stroke-opacity="0.55"/>
<line x1="410.21" y1="68.40" x2="414.21" y2="68.40" stroke="#ff0000" stroke-width="0.8" stroke-opacity="0.55"/>
<line x1="421.87" y1="60.60" x2="421.87" y2="64.60" stroke="#ff0000" stroke-width="0.8" stroke-opacity="0.55"/>
<line x1="419.87" y1="60.60" x2="423.87" y2="60.60" stroke="#ff0000" stroke-width="0.8" stroke-opacity="0.55"/>
<line x1="419.87" y1="64.60" x2="423.87" y2="64.60" stroke="#ff0000" stroke-width="0.8" stroke-opacity="0.55"/>
<line x1="431.53" y1="58.30" x2="431.53" y2="62.30" stroke="#ff0000" stroke-width="0.8" stroke-opacity="0.55"/>
<line x1="429.53" y1="58.30" x2="433.53" y2="58.30" stroke="#ff0000" stroke-width="0.8" stroke-opacity="0.55"/>
<line x1="429.53" y1="62.30" x2="433.53" y2="62.30" stroke="#ff0000" stroke-width="0.8" stroke-opacity="0.55"/>
<line x1="441.19" y1="56.20" x2="441.19" y2="60.20" stroke="#ff0000" stroke-width="0.8" stroke-opacity="0.55"/>
<line x1="439.19" y1="56.20" x2="443.19" y2="56.20" stroke="#ff0000" stroke-width="0.8" stroke-opacity="0.55"/>
<line x1="439.19" y1="60.20" x2="443.19" y2="60.20" stroke="#ff0000" stroke-width="0.8" stroke-opacity="0.55"/>
<line x1="450.84" y1="53.90" x2="450.84" y2="57.90" stroke="#ff0000" stroke-width="0.8" stroke-opacity="0.55"/>
<line x1="448.84" y1="53.90" x2="452.84" y2="53.90" stroke="#ff0000" stroke-width="0.8" stroke-opacity="0.55"/>
<line x1="448.84" y1="57.90" x2="452.84" y2="57.90" stroke="#ff0000" stroke-width="0.8" stroke-opacity="0.55"/>
<line x1="460.50" y1="55.80" x2="460.50" y2="59.80" stroke="#ff0000" stroke-width="0.8" stroke-opacity="0.55"/>
<line x1="458.50" y1="55.80" x2="462.50" y2="55.80" stroke="#ff0000" stroke-width="0.8" stroke-opacity="0.55"/>
<line x1="458.50" y1="59.80" x2="462.50" y2="59.80" stroke="#ff0000" stroke-width="0.8" stroke-opacity="0.55"/>
<rect x="323.05" y="54.85" width="4.50" height="4.50" fill="#ff0000"/>
<rect x="332.71" y="51.65" width="4.50" height="4.50" fill="#ff0000"/>
<rect x="342.36" y="51.65" width="4.50" height="4.50" fill="#ff0000"/>
<rect x="352.02" y="54.85" width="4.50" height="4.50" fill="#ff0000"/>
<rect x="361.68" y="64.85" width="4.50" height="4.50" fill="#ff0000"/>
<rect x="371.34" y="71.45" width="4.50" height="4.50" fill="#ff0000"/>
<rect x="380.99" y="81.35" width="4.50" height="4.50" fill="#ff0000"/>
<rect x="390.65" y="67.65" width="4.50" height="4.50" fill="#ff0000"/>
<rect x="400.31" y="66.75" width="4.50" height="4.50" fill="#ff0000"/>
<rect x="409.96" y="63.65" width="4.50" height="4.50" fill="#ff0000"/>
<rect x="419.62" y="60.35" width="4.50" height="4.50" fill="#ff0000"/>
<rect x="429.28" y="58.05" width="4.50" height="4.50" fill="#ff0000"/>
<rect x="438.94" y="55.95" width="4.50" height="4.50" fill="#ff0000"/>
<rect x="448.59" y="53.65" width="4.50" height="4.50" fill="#ff0000"/>
<rect x="458.25" y="55.55" width="4.50" height="4.50" fill="#ff0000"/>
<path d="M325.30,57.10 L334.96,61.80 L344.61,63.20 L354.27,62.40 L363.93,66.60 L373.59,68.20 L383.24,72.80 L392.90,79.40 L402.56,86.10 L412.21,88.10 L421.87,73.40 L431.53,68.60 L441.19,66.30 L450.84,64.80 L460.50,65.40" fill="none" stroke="#0000ff" stroke-width="0.8" stroke-opacity="0.55"/>
<line x1="334.96" y1="60.80" x2="334.96" y2="62.80" stroke="#0000ff" stroke-width="0.8" stroke-opacity="0.55"/>
<line x1="332.96" y1="60.80" x2="336.96" y2="60.80" stroke="#0000ff" stroke-width="0.8" stroke-opacity="0.55"/>
<line x1="332.96" y1="62.80" x2="336.96" y2="62.80" stroke="#0000ff" stroke-width="0.8" stroke-opacity="0.55"/>
<line x1="344.61" y1="62.20" x2="344.61" y2="64.20" stroke="#0000ff" stroke-width="0.8" stroke-opacity="0.55"/>
<line x1="342.61" y1="62.20" x2="346.61" y2="62.20" stroke="#0000ff" stroke-width="0.8" stroke-opacity="0.55"/>
<line x1="342.61" y1="64.20" x2="346.61" y2="64.20" stroke="#0000ff" stroke-width="0.8" stroke-opacity="0.55"/>
<line x1="354.27" y1="60.40" x2="354.27" y2="64.40" stroke="#0000ff" stroke-width="0.8" stroke-opacity="0.55"/>
<line x1="352.27" y1="60.40" x2="356.27" y2="60.40" stroke="#0000ff" stroke-width="0.8" stroke-opacity="0.55"/>
<line x1="352.27" y1="64.40" x2="356.27" y2="64.40" stroke="#0000ff" stroke-width="0.8" stroke-opacity="0.55"/>
<line x1="363.93" y1="64.60" x2="363.93" y2="68.60" stroke="#0000ff" stroke-width="0.8" stroke-opacity="0.55"/>
<line x1="361.93" y1="64.60" x2="365.93" y2="64.60" stroke="#0000ff" stroke-width="0.8" stroke-opacity="0.55"/>
<line x1="361.93" y1="68.60" x2="365.93" y2="68.60" stroke="#0000ff" stroke-width="0.8" stroke-opacity="0.55"/>
<line x1="373.59" y1="65.20" x2="373.59" y2="71.20" stroke="#0000ff" stroke-width="0.8" stroke-opacity="0.55"/>
<line x1="371.59" y1="65.20" x2="375.59" y2="65.20" stroke="#0000ff" stroke-width="0.8" stroke-opacity="0.55"/>
<line x1="371.59" y1="71.20" x2="375.59" y2="71.20" stroke="#0000ff" stroke-width="0.8" stroke-opacity="0.55"/>
<line x1="383.24" y1="68.80" x2="383.24" y2="76.80" stroke="#0000ff" stroke-width="0.8" stroke-opacity="0.55"/>
<line x1="381.24" y1="68.80" x2="385.24" y2="68.80" stroke="#0000ff" stroke-width="0.8" stroke-opacity="0.55"/>
<line x1="381.24" y1="76.80" x2="385.24" y2="76.80" stroke="#0000ff" stroke-width="0.8" stroke-opacity="0.55"/>
<line x1="392.90" y1="73.40" x2="392.90" y2="85.40" stroke="#0000ff" stroke-width="0.8" stroke-opacity="0.55"/>
<line x1="390.90" y1="73.40" x2="394.90" y2="73.40" stroke="#0000ff" stroke-width="0.8" stroke-opacity="0.55"/>
<line x1="390.90" y1="85.40" x2="394.90" y2="85.40" stroke="#0000ff" stroke-width="0.8" stroke-opacity="0.55"/>
<line x1="402.56" y1="79.60" x2="402.56" y2="92.60" stroke="#0000ff" stroke-width="0.8" stroke-opacity="0.55"/>
<line x1="400.56" y1="79.60" x2="404.56" y2="79.60" stroke="#0000ff" stroke-width="0.8" stroke-opacity="0.55"/>
<line x1="400.56" y1="92.60" x2="404.56" y2="92.60" stroke="#0000ff" stroke-width="0.8" stroke-opacity="0.55"/>
<line x1="412.21" y1="80.10" x2="412.21" y2="96.10" stroke="#0000ff" stroke-width="0.8" stroke-opacity="0.55"/>
<line x1="410.21" y1="80.10" x2="414.21" y2="80.10" stroke="#0000ff" stroke-width="0.8" stroke-opacity="0.55"/>
<line x1="410.21" y1="96.10" x2="414.21" y2="96.10" stroke="#0000ff" stroke-width="0.8" stroke-opacity="0.55"/>
<line x1="421.87" y1="70.40" x2="421.87" y2="76.40" stroke="#0000ff" stroke-width="0.8" stroke-opacity="0.55"/>
<line x1="419.87" y1="70.40" x2="423.87" y2="70.40" stroke="#0000ff" stroke-width="0.8" stroke-opacity="0.55"/>
<line x1="419.87" y1="76.40" x2="423.87" y2="76.40" stroke="#0000ff" stroke-width="0.8" stroke-opacity="0.55"/>
<line x1="431.53" y1="65.60" x2="431.53" y2="71.60" stroke="#0000ff" stroke-width="0.8" stroke-opacity="0.55"/>
<line x1="429.53" y1="65.60" x2="433.53" y2="65.60" stroke="#0000ff" stroke-width="0.8" stroke-opacity="0.55"/>
<line x1="429.53" y1="71.60" x2="433.53" y2="71.60" stroke="#0000ff" stroke-width="0.8" stroke-opacity="0.55"/>
<line x1="441.19" y1="63.30" x2="441.19" y2="69.30" stroke="#0000ff" stroke-width="0.8" stroke-opacity="0.55"/>
<line x1="439.19" y1="63.30" x2="443.19" y2="63.30" stroke="#0000ff" stroke-width="0.8" stroke-opacity="0.55"/>
<line x1="439.19" y1="69.30" x2="443.19" y2="69.30" stroke="#0000ff" stroke-width="0.8" stroke-opacity="0.55"/>
<line x1="450.84" y1="61.80" x2="450.84" y2="67.80" stroke="#0000ff" stroke-width="0.8" stroke-opacity="0.55"/>
<line x1="448.84" y1="61.80" x2="452.84" y2="61.80" stroke="#0000ff" stroke-width="0.8" stroke-opacity="0.55"/>
<line x1="448.84" y1="67.80" x2="452.84" y2="67.80" stroke="#0000ff" stroke-width="0.8" stroke-opacity="0.55"/>
<line x1="460.50" y1="62.40" x2="460.50" y2="68.40" stroke="#0000ff" stroke-width="0.8" stroke-opacity="0.55"/>
<line x1="458.50" y1="62.40" x2="462.50" y2="62.40" stroke="#0000ff" stroke-width="0.8" stroke-opacity="0.55"/>
<line x1="458.50" y1="68.40" x2="462.50" y2="68.40" stroke="#0000ff" stroke-width="0.8" stroke-opacity="0.55"/>
<circle cx="325.30" cy="57.10" r="2.25" fill="#0000ff"/>
<circle cx="334.96" cy="61.80" r="2.25" fill="#0000ff"/>
<circle cx="344.61" cy="63.20" r="2.25" fill="#0000ff"/>
<circle cx="354.27" cy="62.40" r="2.25" fill="#0000ff"/>
<circle cx="363.93" cy="66.60" r="2.25" fill="#0000ff"/>
<circle cx="373.59" cy="68.20" r="2.25" fill="#0000ff"/>
<circle cx="383.24" cy="72.80" r="2.25" fill="#0000ff"/>
<circle cx="392.90" cy="79.40" r="2.25" fill="#0000ff"/>
<circle cx="402.56" cy="86.10" r="2.25" fill="#0000ff"/>
<circle cx="412.21" cy="88.10" r="2.25" fill="#0000ff"/>
<circle cx="421.87" cy="73.40" r="2.25" fill="#0000ff"/>
<circle cx="431.53" cy="68.60" r="2.25" fill="#0000ff"/>
<circle cx="441.19" cy="66.30" r="2.25" fill="#0000ff"/>
<circle cx="450.84" cy="64.80" r="2.25" fill="#0000ff"/>
<circle cx="460.50" cy="65.40" r="2.25" fill="#0000ff"/>
<path d="M393.20,60.70 L393.89,62.35 L395.67,62.50 L394.31,63.66 L394.73,65.40 L393.20,64.47 L391.67,65.40 L392.09,63.66 L390.73,62.50 L392.51,62.35 Z" fill="#000"/>
<path d="M398.40,56.90 L399.09,58.55 L400.87,58.70 L399.51,59.86 L399.93,61.60 L398.40,60.67 L396.87,61.60 L397.29,59.86 L395.93,58.70 L397.71,58.55 Z" fill="#000"/>
<path d="M404.00,56.90 L404.69,58.55 L406.47,58.70 L405.11,59.86 L405.53,61.60 L404.00,60.67 L402.47,61.60 L402.89,59.86 L401.53,58.70 L403.31,58.55 Z" fill="#000"/>
<path d="M409.60,56.90 L410.29,58.55 L412.07,58.70 L410.71,59.86 L411.13,61.60 L409.60,60.67 L408.07,61.60 L408.49,59.86 L407.13,58.70 L408.91,58.55 Z" fill="#000"/>
<line x1="477.15" y1="40.70" x2="486.65" y2="40.70" stroke="#0000ff" stroke-width="0.8" stroke-opacity="0.5"/>
<circle cx="481.90" cy="40.70" r="2.00" fill="#0000ff"/>
<text x="492.4" y="43.328" font-size="7.3" text-anchor="start" font-family='"Liberation Sans", sans-serif' font-weight="bold" >AddaVax</text>
<line x1="477.15" y1="51.35" x2="486.65" y2="51.35" stroke="#ff0000" stroke-width="0.8" stroke-opacity="0.5"/>
<rect x="479.90" y="49.35" width="4.00" height="4.00" fill="#ff0000"/>
<text x="492.4" y="53.978" font-size="7.3" text-anchor="start" font-family='"Liberation Sans", sans-serif' font-weight="bold" >AddaS03</text>
<line x1="477.15" y1="62.00" x2="486.65" y2="62.00" stroke="#00cc00" stroke-width="0.8" stroke-opacity="0.5"/>
<path d="M479.66,63.79 L484.14,63.79 L481.90,59.76 Z" fill="#00cc00"/>
<text x="492.4" y="64.628" font-size="7.3" text-anchor="start" font-family='"Liberation Sans", sans-serif' font-weight="bold" >No adjuvant</text>
<line x1="477.15" y1="72.65" x2="486.65" y2="72.65" stroke="#cc22ff" stroke-width="0.8" stroke-opacity="0.5"/>
<path d="M479.66,70.86 L484.14,70.86 L481.90,74.89 Z" fill="#cc22ff"/>
<text x="492.4" y="75.278" font-size="7.3" text-anchor="start" font-family='"Liberation Sans", sans-serif' font-weight="bold" >PBS</text>
<text x="123.5" y="182" font-size="8.5" text-anchor="middle" font-family='"Liberation Sans", sans-serif' font-weight="bold" >WT</text>
<line x1="55.50" y1="194.60" x2="55.50" y2="285.80" stroke="#000" stroke-width="1.1" stroke-opacity="1"/>
<line x1="55.00" y1="285.30" x2="190.50" y2="285.30" stroke="#000" stroke-width="1.1" stroke-opacity="1"/>
<line x1="52.00" y1="195.10" x2="55.50" y2="195.10" stroke="#000" stroke-width="1" stroke-opacity="1"/>
<text x="51.3" y="198.2" font-size="8.6" text-anchor="end" font-family='"Liberation Serif", serif' font-weight="bold" >100</text>
<line x1="52.00" y1="217.65" x2="55.50" y2="217.65" stroke="#000" stroke-width="1" stroke-opacity="1"/>
<text x="51.3" y="220.75" font-size="8.6" text-anchor="end" font-family='"Liberation Serif", serif' font-weight="bold" >75</text>
<line x1="52.00" y1="240.20" x2="55.50" y2="240.20" stroke="#000" stroke-width="1" stroke-opacity="1"/>
<text x="51.3" y="243.29999999999998" font-size="8.6" text-anchor="end" font-family='"Liberation Serif", serif' font-weight="bold" >50</text>
<line x1="52.00" y1="262.75" x2="55.50" y2="262.75" stroke="#000" stroke-width="1" stroke-opacity="1"/>
<text x="51.3" y="265.85" font-size="8.6" text-anchor="end" font-family='"Liberation Serif", serif' font-weight="bold" >25</text>
<line x1="52.00" y1="285.30" x2="55.50" y2="285.30" stroke="#000" stroke-width="1" stroke-opacity="1"/>
<text x="51.3" y="288.40000000000003" font-size="8.6" text-anchor="end" font-family='"Liberation Serif", serif' font-weight="bold" >0</text>
<line x1="55.50" y1="285.30" x2="55.50" y2="288.90" stroke="#000" stroke-width="1" stroke-opacity="1"/>
<text x="55.5" y="297.8" font-size="9.0" text-anchor="middle" font-family='"Liberation Serif", serif' font-weight="bold" >0</text>
<line x1="74.71" y1="285.30" x2="74.71" y2="288.90" stroke="#000" stroke-width="1" stroke-opacity="1"/>
<text x="74.71428571428572" y="297.8" font-size="9.0" text-anchor="middle" font-family='"Liberation Serif", serif' font-weight="bold" >2</text>
<line x1="93.93" y1="285.30" x2="93.93" y2="288.90" stroke="#000" stroke-width="1" stroke-opacity="1"/>
<text x="93.92857142857143" y="297.8" font-size="9.0" text-anchor="middle" font-family='"Liberation Serif", serif' font-weight="bold" >4</text>
<line x1="113.14" y1="285.30" x2="113.14" y2="288.90" stroke="#000" stroke-width="1" stroke-opacity="1"/>
<text x="113.14285714285714" y="297.8" font-size="9.0" text-anchor="middle" font-family='"Liberation Serif", serif' font-weight="bold" >6</text>
<line x1="132.36" y1="285.30" x2="132.36" y2="288.90" stroke="#000" stroke-width="1" stroke-opacity="1"/>
<text x="132.35714285714286" y="297.8" font-size="9.0" text-anchor="middle" font-family='"Liberation Serif", serif' font-weight="bold" >8</text>
<line x1="151.57" y1="285.30" x2="151.57" y2="288.90" stroke="#000" stroke-width="1" stroke-opacity="1"/>
<text x="151.57142857142856" y="297.8" font-size="9.0" text-anchor="middle" font-family='"Liberation Serif", serif' font-weight="bold" >10</text>
<line x1="170.79" y1="285.30" x2="170.79" y2="288.90" stroke="#000" stroke-width="1" stroke-opacity="1"/>
<text x="170.78571428571428" y="297.8" font-size="9.0" text-anchor="middle" font-family='"Liberation Serif", serif' font-weight="bold" >12</text>
<line x1="190.00" y1="285.30" x2="190.00" y2="288.90" stroke="#000" stroke-width="1" stroke-opacity="1"/>
<text x="190.0" y="297.8" font-size="9.0" text-anchor="middle" font-family='"Liberation Serif", serif' font-weight="bold" >14</text>
<text x="123.5" y="310" font-size="8.8" text-anchor="middle" font-family='"Liberation Sans", sans-serif' font-weight="bold" >Days post infection</text>
<text transform="translate(31.8,240.5) rotate(-90)" font-size="9.4" text-anchor="middle" font-family='"Liberation Sans", sans-serif' font-weight="bold">Survival rate (%)</text>
<path d="M122.75,195.10 L122.75,231.18 L132.36,231.18 L132.36,285.30" fill="none" stroke="#cc22ff" stroke-width="1.3"/>
<path d="M132.36,195.10 L132.36,255.26 L190.00,255.26" fill="none" stroke="#00cc00" stroke-width="1.3"/>
<path d="M55.50,195.10 L190.00,195.10" fill="none" stroke="#5555ff" stroke-width="1.2"/>
<path d="M129.26,257.74 L135.46,257.74 L132.36,252.16 Z" fill="#00cc00"/>
<path d="M186.90,257.74 L193.10,257.74 L190.00,252.16 Z" fill="#00cc00"/>
<path d="M119.65,228.70 L125.85,228.70 L122.75,234.28 Z" fill="#cc22ff"/>
<path d="M129.26,282.82 L135.46,282.82 L132.36,288.40 Z" fill="#cc22ff"/>
<rect x="187.20" y="192.00" width="6.20" height="6.20" fill="#ff0000"/>
<circle cx="190.30" cy="195.10" r="3.00" fill="#0000ff"/>
<line x1="195.70" y1="192.70" x2="195.70" y2="255.80" stroke="#555" stroke-width="1.5" stroke-opacity="1"/>
<text x="204.2" y="232" font-size="21" text-anchor="middle" font-family='"Liberation Sans", sans-serif' font-weight="bold" >*</text>
<line x1="222.35" y1="201.20" x2="231.85" y2="201.20" stroke="#0000ff" stroke-width="2.0" stroke-opacity="1"/>
<circle cx="227.10" cy="201.20" r="2.90" fill="#0000ff"/>
<text x="237.6" y="203.89999999999998" font-size="7.5" text-anchor="start" font-family='"Liberation Sans", sans-serif' font-weight="bold" >AddaVax</text>
<line x1="222.35" y1="213.37" x2="231.85" y2="213.37" stroke="#ff0000" stroke-width="2.0" stroke-opacity="1"/>
<rect x="224.20" y="210.47" width="5.80" height="5.80" fill="#ff0000"/>
<text x="237.6" y="216.06999999999996" font-size="7.5" text-anchor="start" font-family='"Liberation Sans", sans-serif' font-weight="bold" >AddaS03</text>
<line x1="222.35" y1="225.54" x2="231.85" y2="225.54" stroke="#00cc00" stroke-width="2.0" stroke-opacity="1"/>
<path d="M223.85,228.14 L230.35,228.14 L227.10,222.29 Z" fill="#00cc00"/>
<text x="237.6" y="228.23999999999998" font-size="7.5" text-anchor="start" font-family='"Liberation Sans", sans-serif' font-weight="bold" >No adjuvant</text>
<line x1="222.35" y1="237.71" x2="231.85" y2="237.71" stroke="#cc22ff" stroke-width="2.0" stroke-opacity="1"/>
<path d="M223.85,235.11 L230.35,235.11 L227.10,240.96 Z" fill="#cc22ff"/>
<text x="237.6" y="240.40999999999997" font-size="7.5" text-anchor="start" font-family='"Liberation Sans", sans-serif' font-weight="bold" >PBS</text>
<text x="393.2" y="181.7" font-size="8.7" text-anchor="middle" font-family='"Liberation Sans", sans-serif' font-weight="bold" >MyD88 KO</text>
<line x1="325.30" y1="194.60" x2="325.30" y2="285.80" stroke="#000" stroke-width="1.1" stroke-opacity="1"/>
<line x1="324.80" y1="285.30" x2="461.00" y2="285.30" stroke="#000" stroke-width="1.1" stroke-opacity="1"/>
<line x1="321.80" y1="195.10" x2="325.30" y2="195.10" stroke="#000" stroke-width="1" stroke-opacity="1"/>
<text x="321.1" y="198.2" font-size="8.6" text-anchor="end" font-family='"Liberation Sans", sans-serif' font-weight="bold" >100</text>
<line x1="321.80" y1="217.65" x2="325.30" y2="217.65" stroke="#000" stroke-width="1" stroke-opacity="1"/>
<text x="321.1" y="220.75" font-size="8.6" text-anchor="end" font-family='"Liberation Sans", sans-serif' font-weight="bold" >75</text>
<line x1="321.80" y1="240.20" x2="325.30" y2="240.20" stroke="#000" stroke-width="1" stroke-opacity="1"/>
<text x="321.1" y="243.29999999999998" font-size="8.6" text-anchor="end" font-family='"Liberation Sans", sans-serif' font-weight="bold" >50</text>
<line x1="321.80" y1="262.75" x2="325.30" y2="262.75" stroke="#000" stroke-width="1" stroke-opacity="1"/>
<text x="321.1" y="265.85" font-size="8.6" text-anchor="end" font-family='"Liberation Sans", sans-serif' font-weight="bold" >25</text>
<line x1="321.80" y1="285.30" x2="325.30" y2="285.30" stroke="#000" stroke-width="1" stroke-opacity="1"/>
<text x="321.1" y="288.40000000000003" font-size="8.6" text-anchor="end" font-family='"Liberation Sans", sans-serif' font-weight="bold" >0</text>
<line x1="325.30" y1="285.30" x2="325.30" y2="288.90" stroke="#000" stroke-width="1" stroke-opacity="1"/>
<text x="325.3" y="298.6" font-size="8.6" text-anchor="middle" font-family='"Liberation Sans", sans-serif' font-weight="bold" >0</text>
<line x1="344.61" y1="285.30" x2="344.61" y2="288.90" stroke="#000" stroke-width="1" stroke-opacity="1"/>
<text x="344.6142857142857" y="298.6" font-size="8.6" text-anchor="middle" font-family='"Liberation Sans", sans-serif' font-weight="bold" >2</text>
<line x1="363.93" y1="285.30" x2="363.93" y2="288.90" stroke="#000" stroke-width="1" stroke-opacity="1"/>
<text x="363.92857142857144" y="298.6" font-size="8.6" text-anchor="middle" font-family='"Liberation Sans", sans-serif' font-weight="bold" >4</text>
<line x1="383.24" y1="285.30" x2="383.24" y2="288.90" stroke="#000" stroke-width="1" stroke-opacity="1"/>
<text x="383.24285714285713" y="298.6" font-size="8.6" text-anchor="middle" font-family='"Liberation Sans", sans-serif' font-weight="bold" >6</text>
<line x1="402.56" y1="285.30" x2="402.56" y2="288.90" stroke="#000" stroke-width="1" stroke-opacity="1"/>
<text x="402.5571428571429" y="298.6" font-size="8.6" text-anchor="middle" font-family='"Liberation Sans", sans-serif' font-weight="bold" >8</text>
<line x1="421.87" y1="285.30" x2="421.87" y2="288.90" stroke="#000" stroke-width="1" stroke-opacity="1"/>
<text x="421.87142857142857" y="298.6" font-size="8.6" text-anchor="middle" font-family='"Liberation Sans", sans-serif' font-weight="bold" >10</text>
<line x1="441.19" y1="285.30" x2="441.19" y2="288.90" stroke="#000" stroke-width="1" stroke-opacity="1"/>
<text x="441.1857142857143" y="298.6" font-size="8.6" text-anchor="middle" font-family='"Liberation Sans", sans-serif' font-weight="bold" >12</text>
<line x1="460.50" y1="285.30" x2="460.50" y2="288.90" stroke="#000" stroke-width="1" stroke-opacity="1"/>
<text x="460.5" y="298.6" font-size="8.6" text-anchor="middle" font-family='"Liberation Sans", sans-serif' font-weight="bold" >14</text>
<text x="393" y="310.5" font-size="8.8" text-anchor="middle" font-family='"Liberation Sans", sans-serif' font-weight="bold" >Days post infection</text>
<text transform="translate(300.5,237.5) rotate(-90)" font-size="8.6" text-anchor="middle" font-family='"Liberation Sans", sans-serif' font-weight="bold">Survival rate (%)</text>
<path d="M392.90,195.10 L392.90,240.20 L421.87,240.20 L421.87,285.30" fill="none" stroke="#cc22ff" stroke-width="1.3"/>
<path d="M383.24,195.10 L383.24,210.16 L392.90,210.16 L392.90,225.14 L460.50,225.14" fill="none" stroke="#ff0000" stroke-width="1.3"/>
<path d="M392.90,195.10 L392.90,213.14 L402.56,213.14 L402.56,231.18 L412.21,231.18 L412.21,249.22 L421.87,249.22 L421.87,267.26 L460.50,267.26" fill="none" stroke="#00cc00" stroke-width="1.3"/>
<path d="M325.30,195.10 L412.21,195.10 L412.21,217.65 L460.50,217.65" fill="none" stroke="#0000ff" stroke-width="1.3"/>
<circle cx="412.21" cy="217.65" r="2.90" fill="#0000ff"/>
<circle cx="460.50" cy="217.65" r="2.90" fill="#0000ff"/>
<rect x="380.34" y="207.26" width="5.80" height="5.80" fill="#ff0000"/>
<rect x="390.00" y="222.24" width="5.80" height="5.80" fill="#ff0000"/>
<rect x="457.60" y="222.24" width="5.80" height="5.80" fill="#ff0000"/>
<path d="M389.70,215.70 L396.10,215.70 L392.90,209.94 Z" fill="#00cc00"/>
<path d="M399.36,233.74 L405.76,233.74 L402.56,227.98 Z" fill="#00cc00"/>
<path d="M409.01,251.78 L415.41,251.78 L412.21,246.02 Z" fill="#00cc00"/>
<path d="M418.67,269.82 L425.07,269.82 L421.87,264.06 Z" fill="#00cc00"/>
<path d="M457.30,269.82 L463.70,269.82 L460.50,264.06 Z" fill="#00cc00"/>
<path d="M389.70,237.64 L396.10,237.64 L392.90,243.40 Z" fill="#cc22ff"/>
<path d="M418.67,282.74 L425.07,282.74 L421.87,288.50 Z" fill="#cc22ff"/>
<line x1="465.80" y1="216.40" x2="465.80" y2="268.40" stroke="#111" stroke-width="1.4" stroke-opacity="1"/>
<text x="472.6" y="246" font-size="7" text-anchor="middle" font-family='"Liberation Sans", sans-serif' font-weight="bold" >NS</text>
<line x1="490.35" y1="214.00" x2="499.85" y2="214.00" stroke="#0000ff" stroke-width="2.0" stroke-opacity="1"/>
<circle cx="495.10" cy="214.00" r="2.90" fill="#0000ff"/>
<text x="505.3" y="216.628" font-size="7.3" text-anchor="start" font-family='"Liberation Sans", sans-serif' font-weight="bold" >AddaVax</text>
<line x1="490.35" y1="226.17" x2="499.85" y2="226.17" stroke="#ff0000" stroke-width="2.0" stroke-opacity="1"/>
<rect x="492.20" y="223.27" width="5.80" height="5.80" fill="#ff0000"/>
<text x="505.3" y="228.79799999999997" font-size="7.3" text-anchor="start" font-family='"Liberation Sans", sans-serif' font-weight="bold" >AddaS03</text>
<line x1="490.35" y1="238.34" x2="499.85" y2="238.34" stroke="#00cc00" stroke-width="2.0" stroke-opacity="1"/>
<path d="M491.85,240.94 L498.35,240.94 L495.10,235.09 Z" fill="#00cc00"/>
<text x="505.3" y="240.968" font-size="7.3" text-anchor="start" font-family='"Liberation Sans", sans-serif' font-weight="bold" >No adjuvant</text>
<line x1="490.35" y1="250.51" x2="499.85" y2="250.51" stroke="#cc22ff" stroke-width="2.0" stroke-opacity="1"/>
<path d="M491.85,247.91 L498.35,247.91 L495.10,253.76 Z" fill="#cc22ff"/>
<text x="505.3" y="253.13799999999998" font-size="7.3" text-anchor="start" font-family='"Liberation Sans", sans-serif' font-weight="bold" >PBS</text>
</svg></body></html>
